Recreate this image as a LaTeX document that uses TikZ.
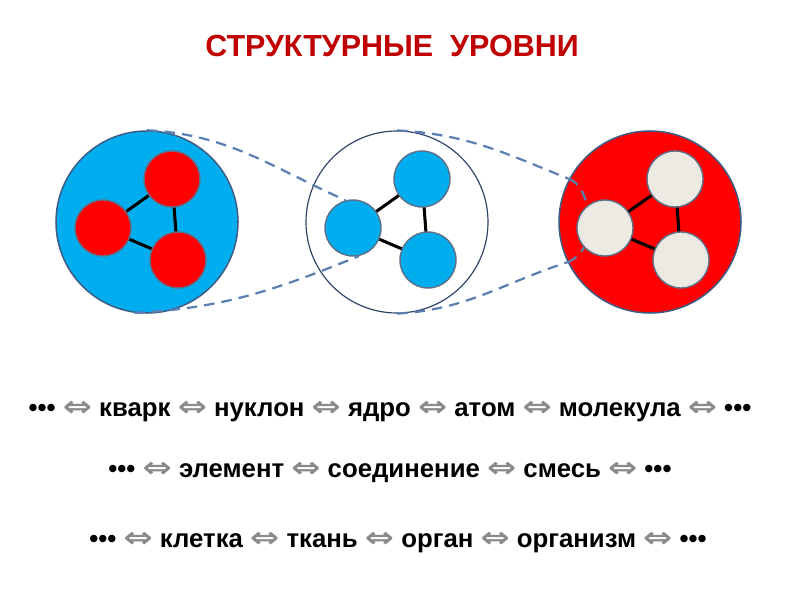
\documentclass[tikz,border=0pt]{standalone}
\usepackage{fontspec}
\setmainfont{Liberation Sans}
\newfontfamily\symfont{DejaVu Sans}
\definecolor{cellblue}{HTML}{00AEEF}
\definecolor{cellred}{HTML}{FF0000}
\definecolor{cellgrey}{HTML}{ECEAE2}
\definecolor{rimblue}{HTML}{3E5C85}
\definecolor{rimgrey}{HTML}{5F6F88}
\definecolor{rimnavy}{HTML}{2F4366}
\definecolor{dashblue}{HTML}{5B7FB0}
\definecolor{titlered}{HTML}{C00000}
\definecolor{arrowgrey}{HTML}{8A8A8A}
\newcommand{\lr}{{\symfont\color{arrowgrey}\scalebox{1.35}[1.1]{⇔}}}
\newcommand{\etc}{•••}
\begin{document}
\begin{tikzpicture}[x=0.3mm, y=-0.3mm,
    big/.style={circle, draw=rimblue, line width=1.3pt, minimum size=54.6mm, inner sep=0pt},
    small/.style={circle, draw=rimgrey, line width=1.2pt, minimum size=16.8mm, inner sep=0pt},
    bond/.style={line width=2.6pt, black},
    zoomline/.style={dashblue, line width=1.9pt, dash pattern=on 9pt off 6pt},
    row/.style={anchor=base, font=\bfseries\fontsize{22}{26}\selectfont}]
    \useasboundingbox (0,0) rectangle (800,600);

    % title
    \node (title) at (392,57) [anchor=base, text=titlered, font=\bfseries\fontsize{26}{30}\selectfont] {СТРУКТУРНЫЕ\ \ УРОВНИ};

    % three levels
    \node (L) at (147,222) [big, fill=cellblue] {};
    \node (M) at (397,222) [big, draw=rimnavy, line width=1pt, fill=white] {};
    \node (R) at (650,222) [big, fill=cellred] {};

    % left: red particles
    \coordinate (lT) at (172,179);
    \coordinate (lL) at (103,228);
    \coordinate (lB) at (178,260);
    \draw[bond] (lT) -- (lL) -- (lB) -- cycle;
    \node (lt) at (lT) [small, fill=cellred] {};
    \node (ll) at (lL) [small, fill=cellred] {};
    \node (lb) at (lB) [small, fill=cellred] {};

    % middle: blue particles
    \coordinate (mT) at (422,179);
    \coordinate (mL) at (353,228);
    \coordinate (mB) at (428,260);
    \draw[bond] (mT) -- (mL) -- (mB) -- cycle;
    \node (mt) at (mT) [small, fill=cellblue] {};
    \node (ml) at (mL) [small, fill=cellblue] {};
    \node (mb) at (mB) [small, fill=cellblue] {};

    % zoom from middle particle to left circle
    \draw[zoomline] (L.north) to[out=-3, in=156] (ml.105);
    \draw[zoomline] (L.262) to[out=3, in=202] (ml.282);

    % zoom from right particle to middle circle
    \draw[zoomline] (M.north) to[out=-3, in=158] (R.152);
    \draw[zoomline] (M.south) to[out=3, in=198] (R.206);

    % right: grey particles
    \coordinate (rT) at (675,179);
    \coordinate (rL) at (605,228);
    \coordinate (rB) at (681,260);
    \draw[zoomline] (R.152) to[out=-22, in=160] (rL.97);
    \draw[zoomline] (R.206) to[out=20, in=195] (rL.283);
    \draw[bond] (rT) -- (rL) -- (rB) -- cycle;
    \node (rt) at (rT) [small, fill=cellgrey] {};
    \node (rl) at (rL) [small, fill=cellgrey] {};
    \node (rb) at (rB) [small, fill=cellgrey] {};

    % levels as text
    \node (physics) at (390,416) [row] {\etc{} \lr{} кварк \lr{} нуклон \lr{} ядро \lr{} атом \lr{} молекула \lr{} \etc};
    \node (chemistry) at (390,477) [row] {\etc{} \lr{} элемент \lr{} соединение \lr{} смесь \lr{} \etc};
    \node (biology) at (398,547) [row] {\etc{} \lr{} клетка \lr{} ткань \lr{} орган \lr{} организм \lr{} \etc};
\end{tikzpicture}
\end{document}
